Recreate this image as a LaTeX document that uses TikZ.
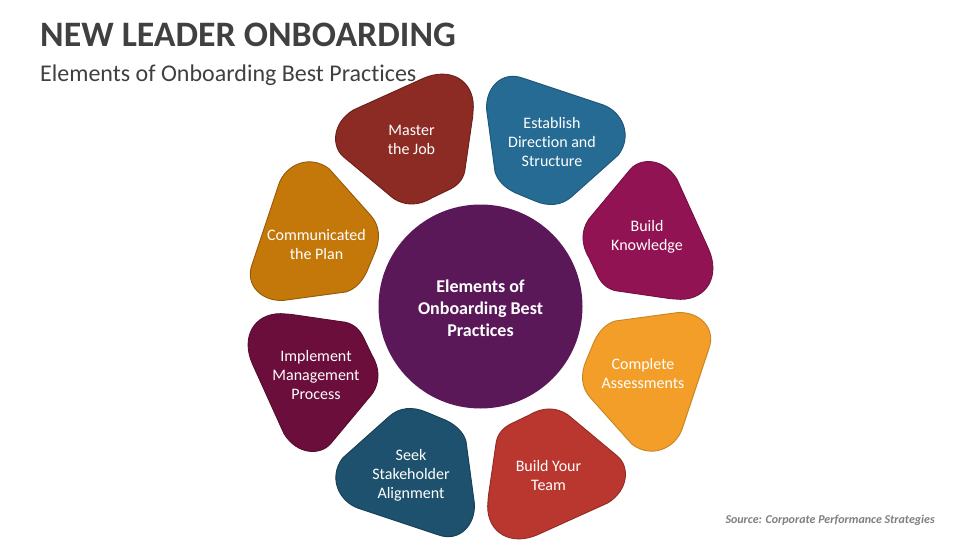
\documentclass[tikz,border=0pt]{standalone}
\usepackage{fontspec}
\setmainfont{Carlito}[Ligatures=NoCommon]
\definecolor{cMaster}{HTML}{8B2B23}\definecolor{sMaster}{HTML}{6A2019}
\definecolor{cEst}{HTML}{256B94}\definecolor{sEst}{HTML}{1D5575}
\definecolor{cKnow}{HTML}{921354}\definecolor{sKnow}{HTML}{730F42}
\definecolor{cComp}{HTML}{F29E29}\definecolor{sComp}{HTML}{C98520}
\definecolor{cTeam}{HTML}{B9372E}\definecolor{sTeam}{HTML}{922B24}
\definecolor{cSeek}{HTML}{1E516D}\definecolor{sSeek}{HTML}{174055}
\definecolor{cImpl}{HTML}{6C0E3C}\definecolor{sImpl}{HTML}{550B2F}
\definecolor{cComm}{HTML}{C4780A}\definecolor{sComm}{HTML}{935A08}
\definecolor{cHub}{HTML}{5A1859}
\definecolor{cTitle}{HTML}{404040}
\definecolor{cSource}{HTML}{7F7F7F}
\tikzset{
  petaltext/.style={text=white,align=center,inner sep=0pt,font=\fontsize{16}{19}\selectfont},
  hubtext/.style={text=white,align=center,inner sep=0pt,font=\fontsize{18}{22}\selectfont\bfseries},
  petalline/.style={line width=0.9pt,line join=round},
}
% #1..#4 matrix, #5 fill, #6 stroke
\newcommand{\petalA}[6]{%
  \begin{scope}[cm={#1,#2,#3,#4,(480.5,306.5)}]
  \begin{scope}[shift={(-160.5pt,246.5pt)},x=0.33333pt,y=-0.33333pt]
    \path[fill=#5,draw=#6,petalline]
      (100,150) -- (310,55)
      .. controls (390,20) and (460,60) .. (460,140)
      -- (458,170) -- (434,335)
      .. controls (428,360) and (412,378) .. (385,390)
      -- (335,414)
      .. controls (295,438) and (255,438) .. (220,415)
      -- (70,290)
      .. controls (35,260) and (35,190) .. (100,150) -- cycle;
  \end{scope}
  \end{scope}}
\newcommand{\petalB}[6]{%
  \begin{scope}[cm={#1,#2,#3,#4,(480.5,306.5)}]
  \begin{scope}[shift={(-160.5pt,246.5pt)},x=0.33333pt,y=-0.33333pt]
    \path[fill=#5,draw=#6,petalline]
      (500,150) .. controls (495,85) and (545,30) .. (610,55)
      -- (850,135)
      .. controls (905,155) and (940,225) .. (895,285)
      -- (755,410)
      .. controls (725,437) and (685,440) .. (645,423)
      -- (585,398)
      .. controls (552,382) and (532,360) .. (525,335) -- cycle;
  \end{scope}
  \end{scope}}
\begin{document}
\begin{tikzpicture}[x=1pt,y=-1pt]
\useasboundingbox (0,0) rectangle (960,540);
\fill[white] (0,0) rectangle (960,540);
\node[anchor=base west,inner sep=0pt,text=cTitle,font=\fontsize{35.8}{40}\selectfont\bfseries] (title) at (40,46.5) {NEW LEADER ONBOARDING};
\node[anchor=base west,inner sep=0pt,text=cTitle,font=\fontsize{24}{28}\selectfont] (subtitle) at (40,82) {Elements of Onboarding Best Practices};
\petalA{1}{0}{0}{1}{cMaster}{sMaster}
\petalB{1}{0}{0}{1}{cEst}{sEst}
\petalA{0}{-1}{1}{0}{cKnow}{sKnow}
\petalB{0}{-1}{1}{0}{cComp}{sComp}
\petalA{-1}{0}{0}{-1}{cTeam}{sTeam}
\petalB{-1}{0}{0}{-1}{cSeek}{sSeek}
\petalA{0}{1}{-1}{0}{cImpl}{sImpl}
\petalB{0}{1}{-1}{0}{cComm}{sComm}
\node[circle,minimum size=204pt,inner sep=0pt,fill=cHub] (hub) at (480.5,306.5) {};
\node[hubtext] (hubt) at (480.5,308) {Elements of\\Onboarding Best\\Practices};
\node[petaltext] (master) at (411.5,139.5) {Master\\the Job};
\node[petaltext] (establish) at (552,142) {Establish\\Direction and\\Structure};
\node[petaltext] (know) at (647,236.5) {Build\\Knowledge};
\node[petaltext] (complete) at (643,374) {Complete\\Assessments};
\node[petaltext] (team) at (548.5,475.5) {Build Your\\Team};
\node[petaltext] (seek) at (411,475) {Seek\\Stakeholder\\Alignment};
\node[petaltext] (implement) at (316,375.5) {Implement\\Management\\Process};
\node[petaltext] (communicated) at (316.5,244.5) {Communicated\\the Plan};
\node[anchor=base east,inner sep=0pt,text=cSource,font=\fontsize{12}{14}\selectfont\bfseries\itshape] (source) at (935,523.5) {Source: Corporate Performance Strategies};
\end{tikzpicture}
\end{document}
